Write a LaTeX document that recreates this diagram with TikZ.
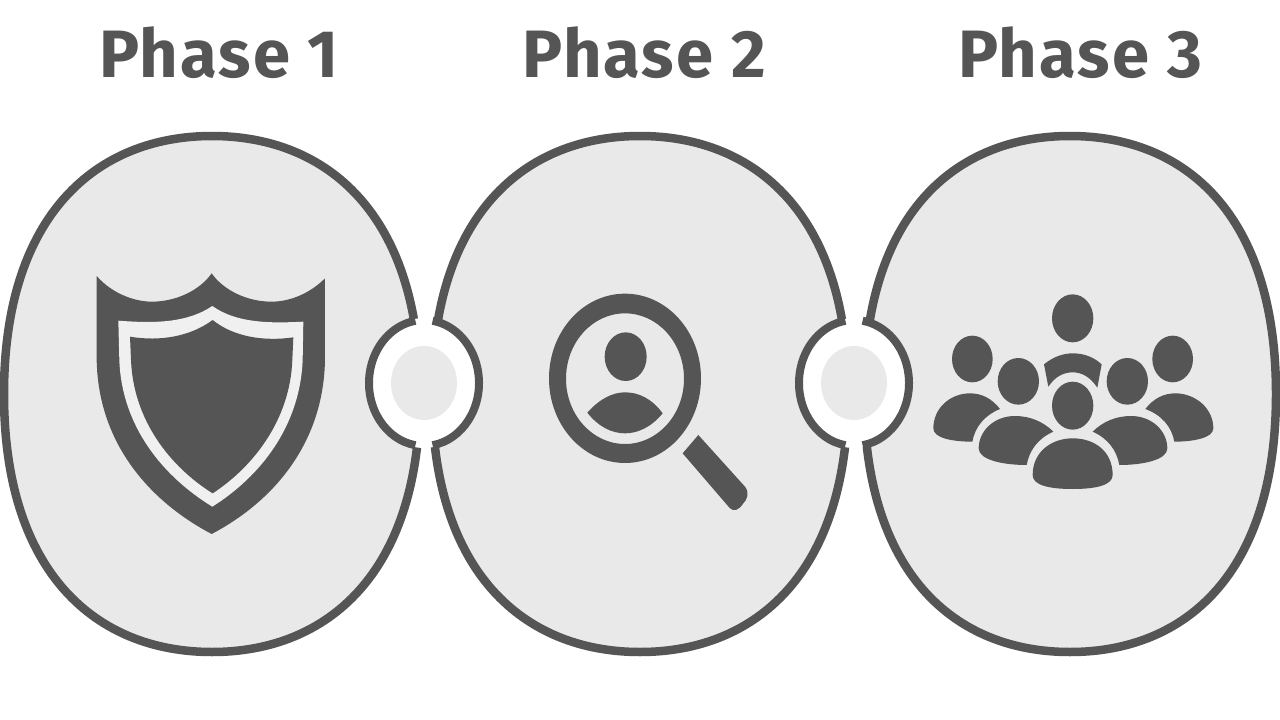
\documentclass[tikz,border=0pt]{standalone}
\usepackage{fontspec}
\setmainfont{Fira Sans}
\newfontfamily\titlefont[LetterSpace=3]{Fira Sans}
\definecolor{dk}{HTML}{555555}
\definecolor{lt}{HTML}{E9E9E9}
\tikzset{
  lobe/.style={fill=lt,draw=dk,line width=8.5pt},
  ringfill/.style={fill=white,draw=none},
  ringline/.style={draw=dk,line width=8pt},
  ringcore/.style={fill=lt,draw=none},
  ink/.style={fill=dk,draw=none},
  softink/.style={fill=lt!70!white,draw=none},
  title/.style={font=\titlefont\fontsize{67}{67}\selectfont\bfseries,text=dk,inner sep=0pt,anchor=base},
}
\newcommand{\lobeshape}[2]{%
  \path[lobe,shift={(#1,394)}] (-#2,0)
    .. controls (-#2,-180) and (-115,-258) .. (0,-258)
    .. controls (115,-258) and (#2,-180) .. (#2,0)
    .. controls (#2,180) and (115,258) .. (0,258)
    .. controls (-115,258) and (-#2,180) .. (-#2,0) -- cycle;}
\newcommand{\ringshape}[1]{%
  \path[ringfill] (#1,383) ellipse [x radius=57,y radius=65];
  \draw[ringline] (#1,383) ++(99:55 and 63) arc [start angle=99,end angle=261,x radius=55,y radius=63];
  \draw[ringline] (#1,383) ++(81:55 and 63) arc [start angle=81,end angle=-81,x radius=55,y radius=63];
  \path[ringcore] (#1,383) ellipse [x radius=33,y radius=37];}
\begin{document}
\begin{tikzpicture}[x=1pt,y=-1pt]
\useasboundingbox (0,0) rectangle (1280,720);
\fill[white] (0,0) rectangle (1280,720);
\lobeshape{212}{208}
\lobeshape{640}{208}
\lobeshape{1070}{206}
\ringshape{424}
\ringshape{854}
\node[title] (p1) at (219,77.5) {Phase 1};
\node[title] (p2) at (644,77.5) {Phase 2};
\node[title] (p3) at (1080,77.5) {Phase 3};
% shield
\begin{scope}[shift={(80,260)},scale=0.33333]
\path[ink] (50,48) .. controls (100,105) and (170,125) .. (215,125)
  .. controls (290,125) and (360,90) .. (395,40)
  .. controls (430,90) and (500,125) .. (575,125)
  .. controls (630,125) and (690,100) .. (735,55)
  -- (735,300) .. controls (730,560) and (570,730) .. (395,822)
  .. controls (220,730) and (55,560) .. (50,300) -- cycle;
\path[softink] (115,182) .. controls (220,190) and (320,190) .. (397,138)
  .. controls (470,190) and (570,190) .. (670,185)
  -- (668,300) .. controls (660,500) and (540,650) .. (397,740)
  .. controls (250,650) and (125,500) .. (118,300) -- cycle;
\path[ink] (150,230) .. controls (240,245) and (330,230) .. (398,180)
  .. controls (460,230) and (550,245) .. (640,232)
  -- (637,300) .. controls (630,480) and (520,620) .. (398,700)
  .. controls (270,620) and (160,480) .. (153,300) -- cycle;
\end{scope}
% magnifier
\begin{scope}[shift={(530,280)},scale=0.33333]
\path[ink,even odd rule] (285,295) ellipse [x radius=228,y radius=254]
  (285,296) ellipse [x radius=177,y radius=196];
\path[ink] (287,230) ellipse [x radius=63,y radius=73];
\path[ink] (172,398) .. controls (210,355) and (250,337) .. (285,337)
  .. controls (325,337) and (365,355) .. (398,400)
  .. controls (365,440) and (325,460) .. (285,460)
  .. controls (245,460) and (205,440) .. (172,398) -- cycle;
\path[ink] (505,465) -- (645,620) .. controls (660,640) and (650,660) .. (640,670)
  .. controls (625,692) and (612,695) .. (600,685) -- (458,520) -- cycle;
\end{scope}
% people
\begin{scope}[shift={(920,285)},scale=0.33333]
\path[ink] (458,100) ellipse [x radius=62,y radius=72];
\path[ink] (157,222) ellipse [x radius=61,y radius=70];
\path[ink] (295,289) ellipse [x radius=62,y radius=70];
\path[ink] (458,362) ellipse [x radius=62,y radius=72];
\path[ink] (622,289) ellipse [x radius=62,y radius=70];
\path[ink] (758,222) ellipse [x radius=61,y radius=70];
\path[ink] (338,570) .. controls (338,500) and (395,460) .. (458,460)
  .. controls (525,460) and (578,500) .. (578,570)
  .. controls (578,600) and (530,612) .. (458,612)
  .. controls (385,612) and (338,600) .. (338,570) -- cycle;
\path[ink] (400,440) .. controls (370,410) and (330,393) .. (285,393)
  .. controls (220,393) and (176,440) .. (176,490)
  .. controls (176,525) and (250,540) .. (320,540)
  .. controls (328,495) and (355,460) .. (400,440) -- cycle;
\path[ink] (518,440) .. controls (548,410) and (588,393) .. (633,393)
  .. controls (698,393) and (742,440) .. (742,490)
  .. controls (742,525) and (668,540) .. (598,540)
  .. controls (590,495) and (563,460) .. (518,440) -- cycle;
\path[ink] (240,372) .. controls (215,340) and (185,325) .. (150,325)
  .. controls (90,325) and (40,370) .. (40,430)
  .. controls (40,460) and (100,470) .. (157,470)
  .. controls (165,425) and (195,390) .. (240,372) -- cycle;
\path[ink] (676,372) .. controls (701,340) and (731,325) .. (766,325)
  .. controls (826,325) and (880,370) .. (880,430)
  .. controls (880,460) and (816,470) .. (763,470)
  .. controls (755,425) and (725,390) .. (676,372) -- cycle;
\path[ink] (372,238) .. controls (400,215) and (430,205) .. (458,205)
  .. controls (490,205) and (520,215) .. (545,238)
  -- (532,308) .. controls (510,275) and (485,262) .. (458,262)
  .. controls (430,262) and (405,275) .. (385,305) -- cycle;
\end{scope}
\end{tikzpicture}
\end{document}
